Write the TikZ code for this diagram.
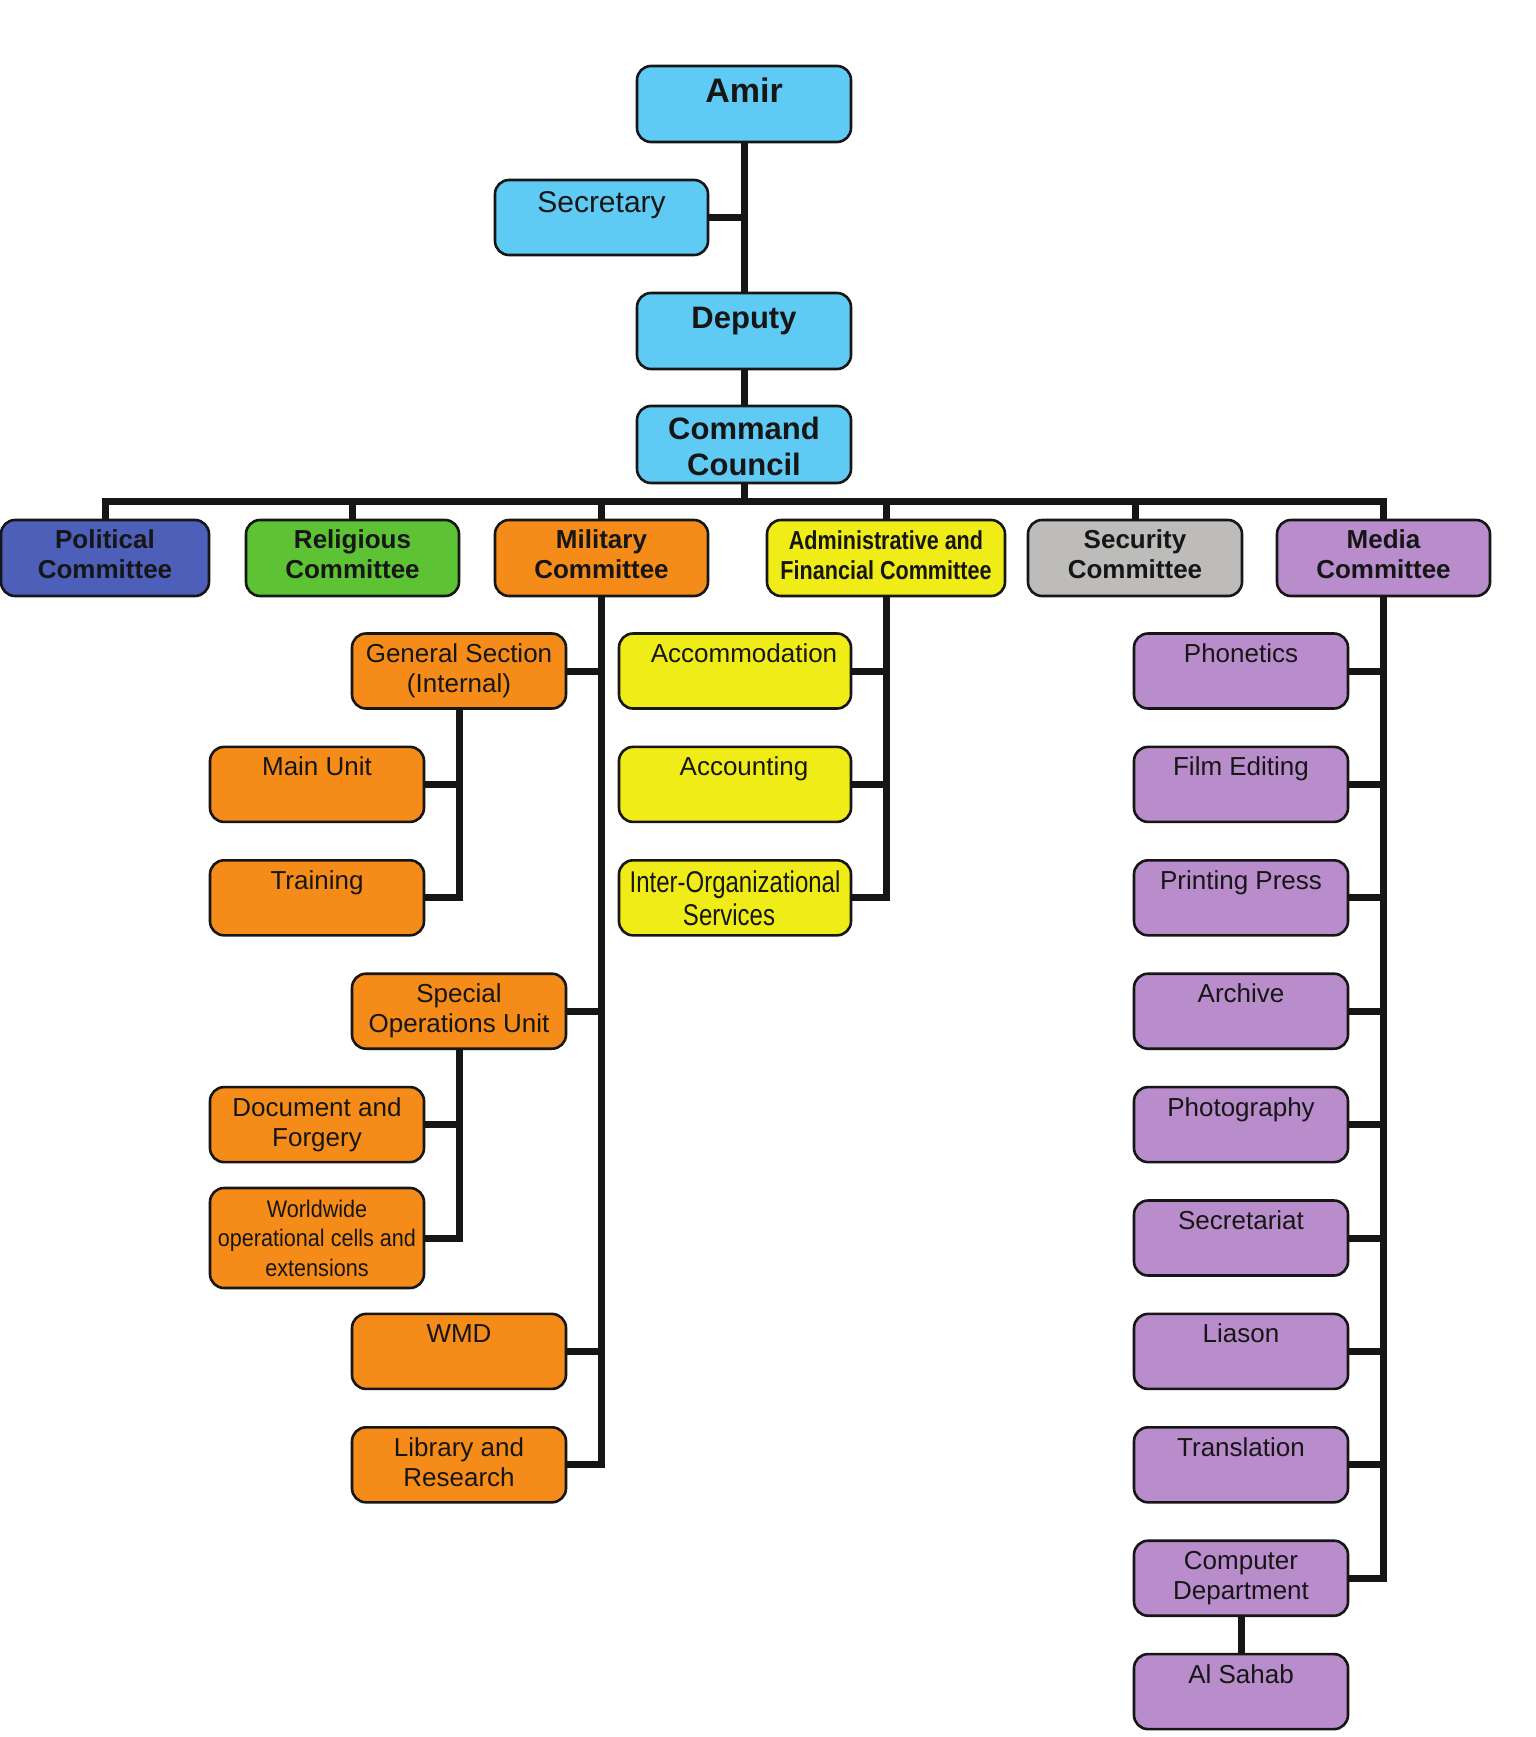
\documentclass[tikz,border=0pt]{standalone}
\usepackage{fontspec}
\setmainfont{Liberation Sans}
\newfontfamily\condf{Liberation Sans}[FakeStretch=0.8]
\newfontfamily\condbf{Liberation Sans Bold}[FakeStretch=0.83]
\newfontfamily\semif{Liberation Sans}[FakeStretch=0.9]
\definecolor{cblue}{HTML}{5FCBF4}
\definecolor{cpol}{HTML}{4D5FB9}
\definecolor{cgreen}{HTML}{5DC234}
\definecolor{corange}{HTML}{F58B19}
\definecolor{cyellow}{HTML}{F0EC17}
\definecolor{cgray}{HTML}{BDBCBA}
\definecolor{cpurple}{HTML}{B98DCB}
\definecolor{ink}{HTML}{161616}
% width, height, first baseline, font size, line skip, text
\newcommand\boxtext[6]{\parbox[c][#2][t]{#1}{\fontsize{#4}{#5}\selectfont\centering\rule{0pt}{#3}#6\par}}
\newcommand\toptext[2]{\boxtext{#1}{76pt}{35pt}{31}{36}{\bfseries #2}}
\newcommand\comtext[2]{\boxtext{#1}{76pt}{28pt}{26}{30}{\bfseries #2}}
\newcommand\subtext[2]{\boxtext{#1}{75pt}{29pt}{26}{30}{#2}}
\begin{document}
\begin{tikzpicture}[x=1pt,y=-1pt,
  bx/.style={draw=ink, line width=2.6pt, rounded corners=14pt, inner sep=0pt, outer sep=0pt, text=ink},
  conn/.style={draw=ink, line width=7pt},
  top/.style={bx, fill=cblue},
  org/.style={bx, fill=corange},
  yel/.style={bx, fill=cyellow},
  pur/.style={bx, fill=cpurple}]
\useasboundingbox[fill=white] (0,0) rectangle (1535,1737);

% top chain
\node[top] (amir) at (744,104) {\boxtext{214pt}{76pt}{36pt}{34}{36}{\bfseries Amir}};
\node[top] (sec) at (601.5,217.5) {\boxtext{213pt}{75pt}{32pt}{30}{34}{Secretary}};
\node[top] (dep) at (744,331) {\toptext{214pt}{Deputy}};
\node[top] (cc) at (744,444.5) {\boxtext{214pt}{77pt}{33pt}{31}{36}{\bfseries Command\\Council}};

% committees
\node[bx, fill=cpol] (pol) at (105,558) {\comtext{208pt}{Political\\Committee}};
\node[bx, fill=cgreen] (rel) at (352.5,558) {\comtext{213pt}{Religious\\Committee}};
\node[org] (mil) at (601.5,558) {\comtext{213pt}{Military\\Committee}};
\node[yel] (adm) at (886,558) {\boxtext{238pt}{76pt}{29pt}{26}{30}{\condbf Administrative and\\Financial Committee}};
\node[bx, fill=cgray] (secu) at (1135,558) {\comtext{214pt}{Security\\Committee}};
\node[pur] (med) at (1383.5,558) {\comtext{213pt}{Media\\Committee}};

% military
\node[org] (gs) at (459,671) {\subtext{214pt}{General Section\\(Internal)}};
\node[org] (mu) at (317,784.4) {\subtext{214pt}{Main Unit}};
\node[org] (tr) at (317,897.8) {\subtext{214pt}{Training}};
\node[org] (sou) at (459,1011.2) {\subtext{214pt}{Special\\Operations Unit}};
\node[org] (df) at (317,1124.6) {\subtext{214pt}{Document and\\Forgery}};
\node[org] (ww) at (317,1238) {\boxtext{214pt}{100pt}{29pt}{24}{29.5}{\semif Worldwide\\operational cells and\\extensions}};
\node[org] (wmd) at (459,1351.4) {\subtext{214pt}{WMD}};
\node[org] (lib) at (459,1464.8) {\subtext{214pt}{Library and\\Research}};

% administrative
\node[yel] (acm) at (735,671) {\subtext{232pt}{\hspace*{18pt}Accommodation}};
\node[yel] (acc) at (735,784.4) {\subtext{232pt}{\hspace*{18pt}Accounting}};
\node[yel] (ios) at (735,897.8) {\boxtext{232pt}{75pt}{32pt}{30}{33}{\condf Inter-Organizational\\\hspace*{-12pt}Services}};

% media
\node[pur] (pho) at (1241,671) {\subtext{214pt}{Phonetics}};
\node[pur] (fe) at (1241,784.4) {\subtext{214pt}{Film Editing}};
\node[pur] (pp) at (1241,897.8) {\subtext{214pt}{Printing Press}};
\node[pur] (arc) at (1241,1011.2) {\subtext{214pt}{Archive}};
\node[pur] (pht) at (1241,1124.6) {\subtext{214pt}{Photography}};
\node[pur] (sct) at (1241,1238) {\subtext{214pt}{Secretariat}};
\node[pur] (lia) at (1241,1351.4) {\subtext{214pt}{Liason}};
\node[pur] (trn) at (1241,1464.8) {\subtext{214pt}{Translation}};
\node[pur] (cd) at (1241,1578.2) {\subtext{214pt}{Computer\\Department}};
\node[pur] (als) at (1241,1691.6) {\subtext{214pt}{Al Sahab}};

\coordinate (bary) at (0,501);

% connectors: top chain
\draw[conn] (amir.south) -- (dep.north);
\draw[conn] (sec.east) -- (sec.east -| amir.south);
\draw[conn] (dep.south) -- (cc.north);
\draw[conn] (cc.south) -- (cc.south |- bary);
\draw[conn] (pol.north) -- (pol.north |- bary) -- (med.north |- bary) -- (med.north);
\draw[conn] (rel.north) -- (rel.north |- bary);
\draw[conn] (mil.north) -- (mil.north |- bary);
\draw[conn] (adm.north) -- (adm.north |- bary);
\draw[conn] (secu.north) -- (secu.north |- bary);

% military
\draw[conn] (mil.south) |- (lib.east);
\draw[conn] (gs.east) -- (gs.east -| mil.south);
\draw[conn] (sou.east) -- (sou.east -| mil.south);
\draw[conn] (wmd.east) -- (wmd.east -| mil.south);
\draw[conn] (gs.south) |- (tr.east);
\draw[conn] (mu.east) -- (mu.east -| gs.south);
\draw[conn] (sou.south) |- (ww.east);
\draw[conn] (df.east) -- (df.east -| sou.south);

% administrative
\draw[conn] (adm.south) |- (ios.east);
\draw[conn] (acm.east) -- (acm.east -| adm.south);
\draw[conn] (acc.east) -- (acc.east -| adm.south);

% media
\draw[conn] (med.south) |- (cd.east);
\foreach \n in {pho,fe,pp,arc,pht,sct,lia,trn}
  \draw[conn] (\n.east) -- (\n.east -| med.south);
\draw[conn] (cd.south) -- (als.north);
\end{tikzpicture}
\end{document}
